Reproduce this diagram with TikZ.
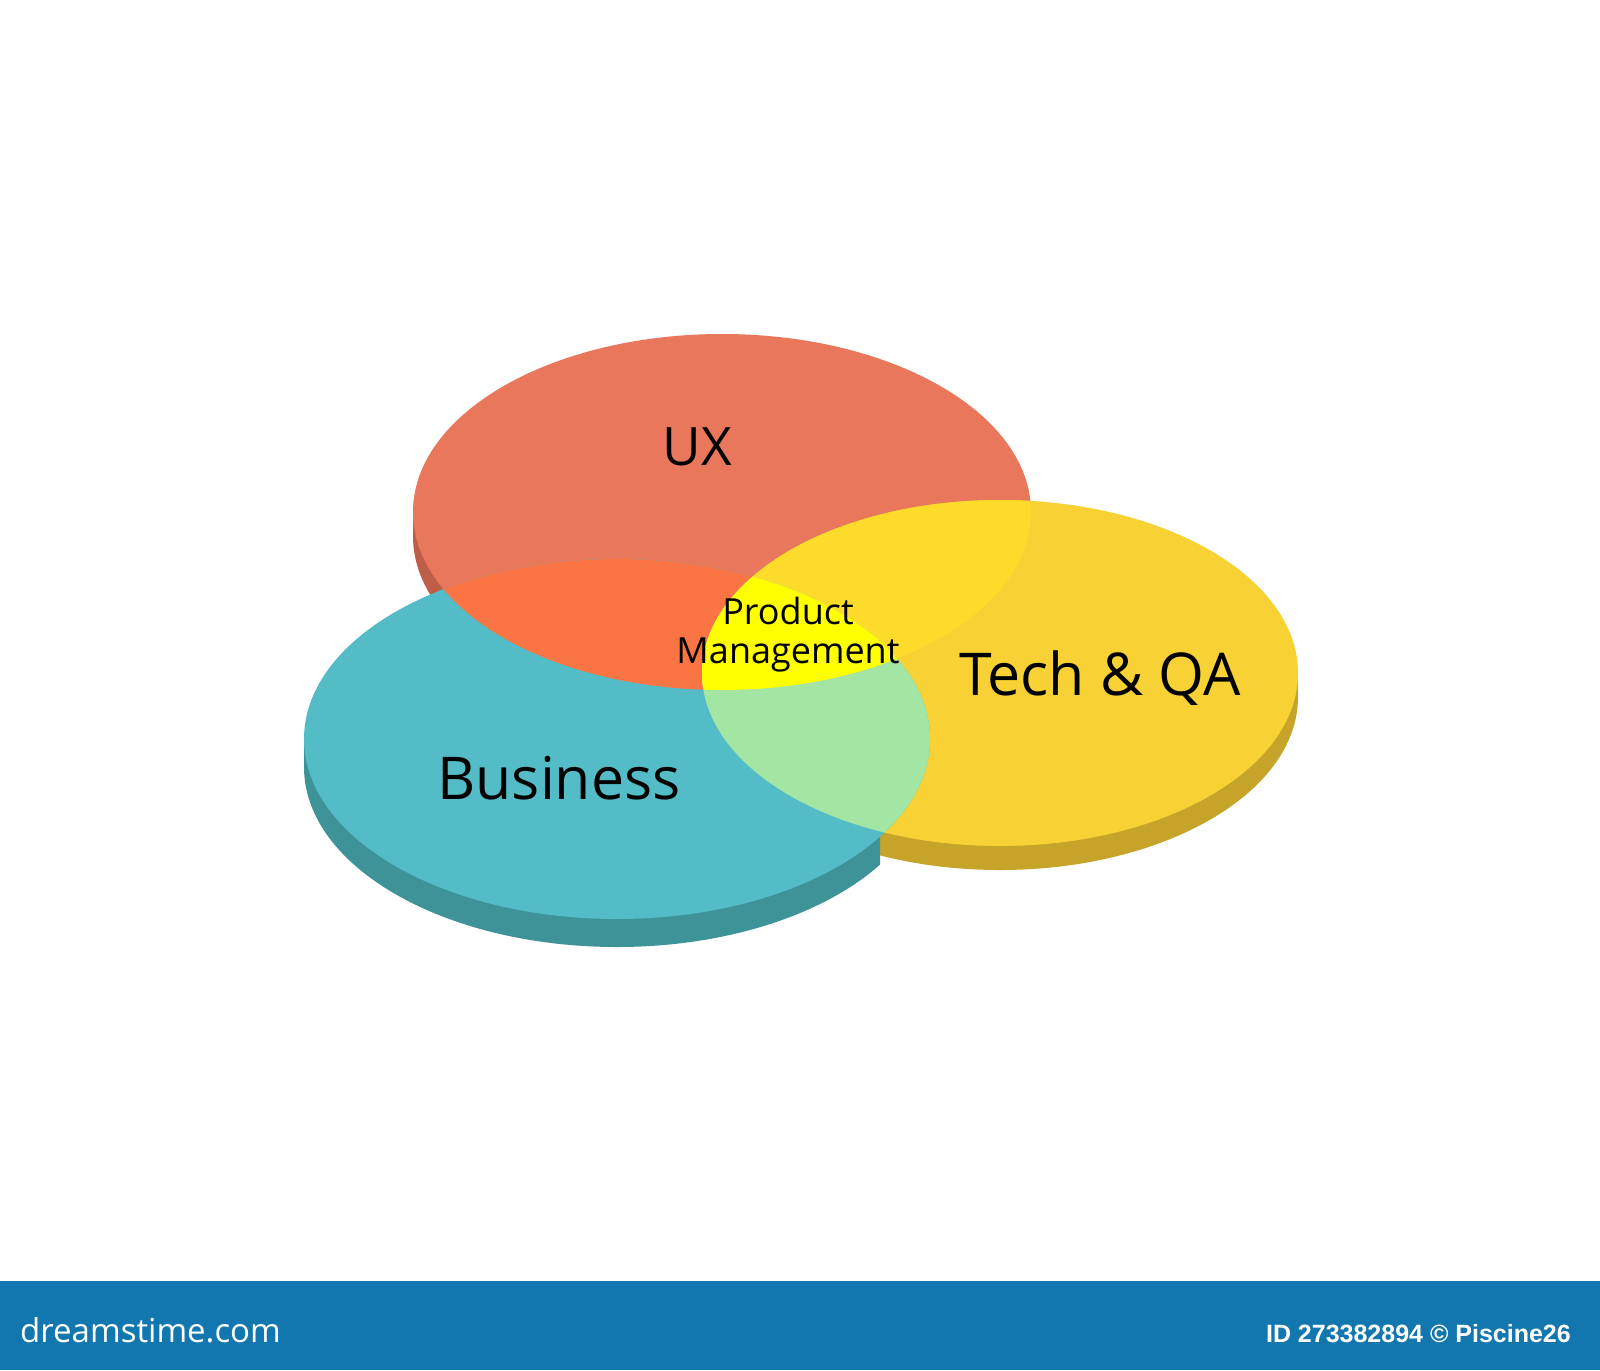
\documentclass[tikz,border=0pt]{standalone}
\usepackage{fontspec}
\setmainfont{Open Sans}
\newfontfamily\barfont{Open Sans}
\newfontfamily\barbold{Liberation Sans}[BoldFont={Liberation Sans Bold}]
\definecolor{uxface}{HTML}{E8775C}
\definecolor{uxside}{HTML}{BF5E48}
\definecolor{bizface}{HTML}{53BCC6}
\definecolor{bizside}{HTML}{3E9399}
\definecolor{techface}{HTML}{F8D134}
\definecolor{techside}{HTML}{C6A42A}
\definecolor{uxbiz}{HTML}{FA7444}
\definecolor{uxtech}{HTML}{FDDB2A}
\definecolor{biztech}{HTML}{A3E5A2}
\definecolor{core}{HTML}{FFFF00}
\definecolor{barblue}{HTML}{1177AE}
\tikzset{
  label/.style={text=black, inner sep=0pt, anchor=base},
}
\begin{document}
\begin{tikzpicture}[x=1pt,y=-1pt]
\useasboundingbox[fill=white] (0,0) rectangle (1600,1370);
% sides
\fill[uxside] (413,512) rectangle (1031,536);
\fill[uxside] (722,536) ellipse [x radius=309pt, y radius=178pt];
\fill[techside] (702,673) rectangle (1298,697);
\fill[techside] (1000,697) ellipse [x radius=298pt, y radius=173pt];
\begin{scope}
\clip (0,0) rectangle (880,1000);
\fill[bizside] (304,739) rectangle (930,767);
\fill[bizside] (617,767) ellipse [x radius=313pt, y radius=180pt];
\end{scope}
% faces
\fill[uxface] (722,512) ellipse [x radius=309pt, y radius=178pt];
\fill[techface] (1000,673) ellipse [x radius=298pt, y radius=173pt];
\fill[bizface] (617,739) ellipse [x radius=313pt, y radius=180pt];
% overlaps
\begin{scope}
\clip (722,512) ellipse [x radius=309pt, y radius=178pt];
\fill[uxbiz] (617,739) ellipse [x radius=313pt, y radius=180pt];
\fill[uxtech] (1000,673) ellipse [x radius=298pt, y radius=173pt];
\end{scope}
\begin{scope}
\clip (617,739) ellipse [x radius=313pt, y radius=180pt];
\fill[biztech] (1000,673) ellipse [x radius=298pt, y radius=173pt];
\end{scope}
\begin{scope}
\clip (722,512) ellipse [x radius=309pt, y radius=178pt];
\clip (617,739) ellipse [x radius=313pt, y radius=180pt];
\fill[core] (1000,673) ellipse [x radius=298pt, y radius=173pt];
\end{scope}
% labels
\node[label, font=\fontsize{53}{60}\selectfont] (ux) at (697,465) {UX};
\node[label, font=\fontsize{59}{66}\selectfont] (tech) at (1100,695) {Tech \& QA};
\node[label, font=\fontsize{59}{66}\selectfont] (biz) at (559,799) {Business};
\node[label, font=\fontsize{36}{38}\selectfont] (pm1) at (788,624) {Product};
\node[label, font=\fontsize{36}{38}\selectfont] (pm2) at (788,663) {Management};
% bottom bar
\fill[barblue] (0,1281) rectangle (1600,1370);
\node[text=white, inner sep=0pt, anchor=base west, font=\barfont\fontsize{33}{33}\selectfont] (site) at (20,1342) {dreamstime.com};
\node[text=white, inner sep=0pt, anchor=base east, font=\barbold\bfseries\fontsize{25}{25}\selectfont] (credit) at (1571,1342) {ID 273382894 © Piscine26};
\end{tikzpicture}
\end{document}
